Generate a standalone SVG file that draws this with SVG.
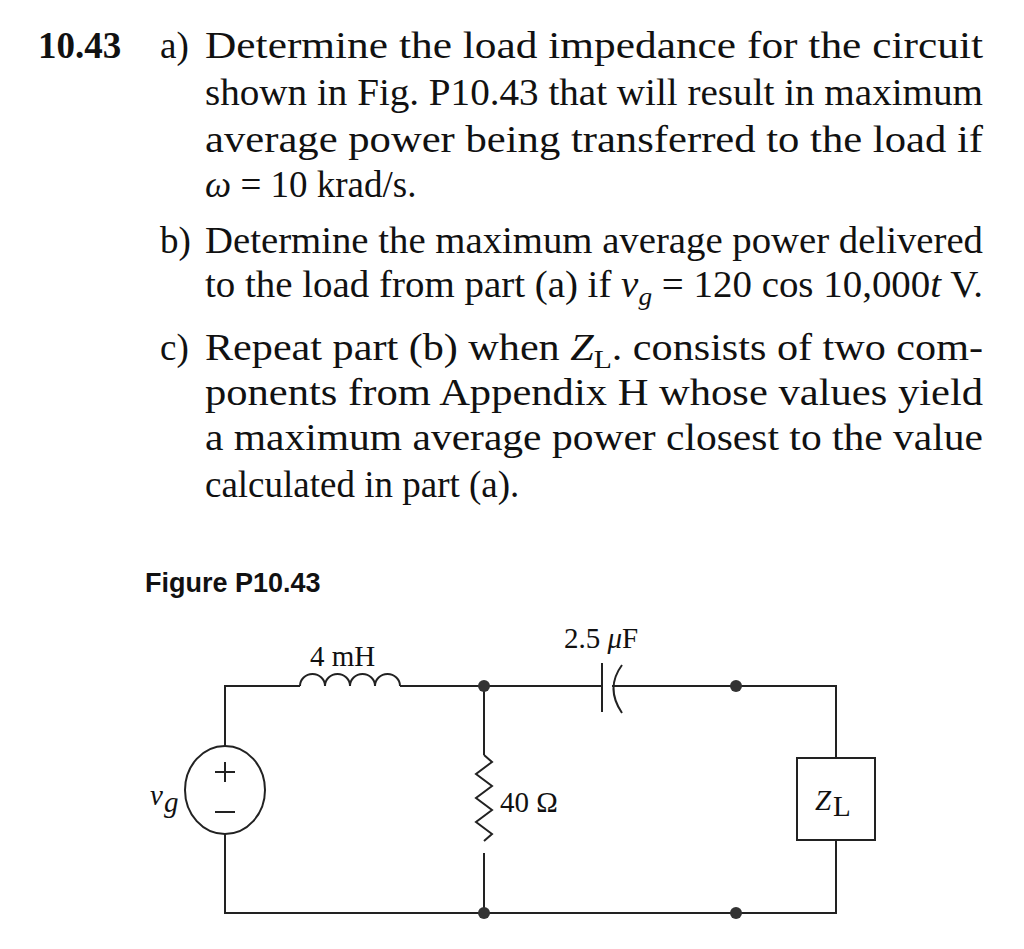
<svg xmlns="http://www.w3.org/2000/svg" width="1024" height="949" viewBox="0 0 1024 949">
<style>
.t{font-family:"Liberation Serif",serif;font-size:37px;fill:#111}
.w{stroke:#222;stroke-width:2;fill:none}
.d{fill:#333}
.l{font-family:"Liberation Serif",serif;font-size:29px;fill:#111}
</style>
<rect width="1024" height="949" fill="#fff"/>
<g id="text">
<text class="t" x="38" y="58" font-weight="bold">10.43</text>
<text class="t" x="160" y="58">a)</text>
<text class="t" x="205" y="58" textLength="778" lengthAdjust="spacingAndGlyphs">Determine the load impedance for the circuit</text>
<text class="t" x="205" y="105" textLength="778" lengthAdjust="spacingAndGlyphs">shown in Fig. P10.43 that will result in maximum</text>
<text class="t" x="205" y="152" textLength="778" lengthAdjust="spacingAndGlyphs">average power being transferred to the load if</text>
<text class="t" x="205" y="197"><tspan font-style="italic">ω</tspan> = 10 krad/s.</text>
<text class="t" x="160" y="253">b)</text>
<text class="t" x="205" y="253" textLength="778" lengthAdjust="spacingAndGlyphs">Determine the maximum average power delivered</text>
<text class="t" x="205" y="297" textLength="778" lengthAdjust="spacingAndGlyphs">to the load from part (a) if <tspan font-style="italic">v</tspan><tspan font-style="italic" font-size="26" dy="8">g</tspan><tspan dy="-8"> = 120 cos 10,000<tspan font-style="italic">t</tspan> V.</tspan></text>
<text class="t" x="160" y="360">c)</text>
<text class="t" x="205" y="360" textLength="778" lengthAdjust="spacingAndGlyphs">Repeat part (b) when <tspan font-style="italic">Z</tspan><tspan font-size="26" dy="8">L</tspan><tspan dy="-8">. consists of two com-</tspan></text>
<text class="t" x="205" y="405" textLength="778" lengthAdjust="spacingAndGlyphs">ponents from Appendix H whose values yield</text>
<text class="t" x="205" y="450" textLength="778" lengthAdjust="spacingAndGlyphs">a maximum average power closest to the value</text>
<text class="t" x="205" y="497">calculated in part (a).</text>
<text x="145" y="592" font-family="Liberation Sans,sans-serif" font-weight="bold" font-size="27" fill="#111">Figure P10.43</text>
</g>
<g id="connectors">
<path class="w" d="M225 746 V686 H300 M400 686 H602 M612 686 H836 V758 M836 840 V913 H225 V834 M484 686 V755 M484 853 V913"/>
</g>
<g id="source"><ellipse class="w" cx="225" cy="790" rx="40" ry="44"/>
<path class="w" d="M225 762 V782 M215 772 H235 M215 812 H235"/>
<text class="l" x="150" y="805" font-style="italic">v</text><text class="l" x="164" y="812" font-style="italic" font-size="22">g</text></g>
<g id="inductor"><path class="w" d="M300 686 a12.5 12 0 0 1 25 0 a12.5 12 0 0 1 25 0 a12.5 12 0 0 1 25 0 a12.5 12 0 0 1 25 0"/>
<text class="l" x="310" y="666">4 mH</text></g>
<g id="capacitor"><path class="w" d="M602 663 V712 M622 665 Q605 688 622 713"/>
<text class="l" x="564" y="648">2.5 <tspan font-style="italic">μ</tspan>F</text></g>
<g id="resistor"><path class="w" d="M484 755 l8 7 l-16 12 l16 12 l-16 12 l16 12 l-16 12 l16 12 l-8 7"/>
<text class="l" x="500" y="812">40 Ω</text></g>
<g id="load"><rect class="w" x="797" y="758" width="78" height="82"/>
<text class="l" x="815" y="810" font-style="italic">Z</text><text class="l" x="833" y="816" font-size="20">L</text></g>
<g id="dots"><circle class="d" cx="484" cy="686" r="6"/><circle class="d" cx="736" cy="686" r="6"/><circle class="d" cx="484" cy="913" r="6"/><circle class="d" cx="736" cy="913" r="6"/></g>
</svg>
